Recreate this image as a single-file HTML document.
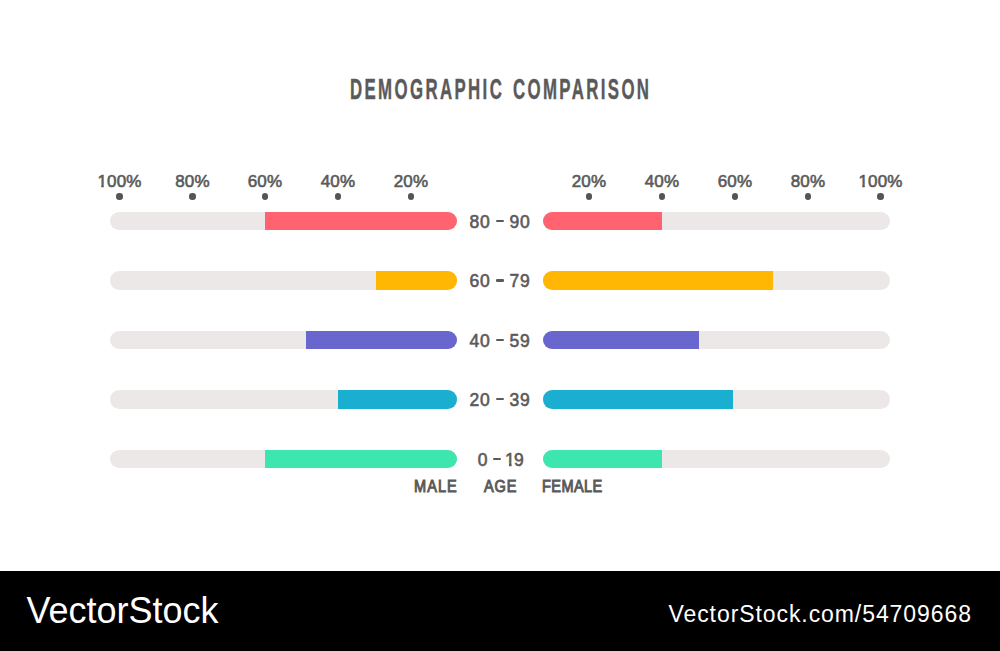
<!DOCTYPE html>
<html><head><meta charset="utf-8">
<style>
html,body{margin:0;padding:0;}
body{-webkit-font-smoothing:antialiased;width:1000px;height:651px;position:relative;overflow:hidden;background:#fff;font-family:"Liberation Sans",sans-serif;}
.t{position:absolute;white-space:nowrap;line-height:1;}
.title{left:350px;top:75px;font-size:29px;font-weight:bold;color:#5a5a5a;letter-spacing:4.1px;word-spacing:3px;transform:scaleX(0.58);transform-origin:0 0;-webkit-text-stroke:0.45px #5a5a5a;}
.tick{font-size:17px;font-weight:normal;-webkit-text-stroke:0.6px #5a5a5a;color:#5a5a5a;width:80px;margin-left:-40px;text-align:center;top:172.7px;letter-spacing:0.15px;}
.dot{position:absolute;width:6.5px;height:6.5px;border-radius:50%;background:#555;top:193px;margin-left:-3.25px;}
.bar{position:absolute;height:18.4px;background:#ece8e8;}
.bl{left:110px;width:347px;border-radius:9.2px;}
.br{left:543px;width:347px;border-radius:9.2px;}
.fl{position:absolute;height:18.4px;border-radius:0 9.2px 9.2px 0;}
.fr{position:absolute;height:18.4px;border-radius:9.2px 0 0 9.2px;}
.age{font-size:17.5px;font-weight:normal;-webkit-text-stroke:0.6px #5a5a5a;color:#5a5a5a;left:440px;width:120px;text-align:center;letter-spacing:0.7px;}
.one{display:inline-block;clip-path:polygon(-1em -1em,2em -1em,2em 0.69em,0.37em 0.69em,0.37em 2em,0.225em 2em,0.225em 0.69em,-1em 0.69em);}
.tick .one{clip-path:polygon(-1em -1em,2em -1em,2em 0.69em,0.37em 0.69em,0.37em 2em,0.225em 2em,0.225em 0.69em,-1em 0.69em);}
.d{display:inline-block;width:7.6px;height:2.3px;border-radius:1.1px;background:#5a5a5a;margin:0 6px 0 5.6px;vertical-align:5.6px;}
.lab{font-size:15.8px;font-weight:normal;-webkit-text-stroke:0.95px #5a5a5a;color:#5a5a5a;top:478.9px;letter-spacing:0.9px;transform:scaleX(0.92);transform-origin:0 0;}
.foot{position:absolute;left:0;top:571px;width:1000px;height:80px;background:#000;}
.wm1{color:#fff;font-size:36px;left:26.5px;top:593.1px;letter-spacing:0px;}
.wm2{color:#fff;font-size:23px;left:668.5px;top:603px;letter-spacing:0.92px;}
</style></head><body>
<div class="t title" id="title"><span id="t1">DEMOGRAPHIC</span> <span id="t2">COMPARISON</span></div>

<div class="t tick" style="left:119.5px"><span class="one">1</span>00%</div>
<div class="t tick" style="left:192.5px">80%</div>
<div class="t tick" style="left:265px">60%</div>
<div class="t tick" style="left:338px">40%</div>
<div class="t tick" style="left:411px">20%</div>
<div class="t tick" style="left:589px">20%</div>
<div class="t tick" style="left:662px">40%</div>
<div class="t tick" style="left:735px">60%</div>
<div class="t tick" style="left:808px">80%</div>
<div class="t tick" style="left:880.5px"><span class="one">1</span>00%</div>

<div class="dot" style="left:119.5px"></div>
<div class="dot" style="left:192.5px"></div>
<div class="dot" style="left:265px"></div>
<div class="dot" style="left:338px"></div>
<div class="dot" style="left:411px"></div>
<div class="dot" style="left:589px"></div>
<div class="dot" style="left:662px"></div>
<div class="dot" style="left:735px"></div>
<div class="dot" style="left:808px"></div>
<div class="dot" style="left:880.5px"></div>

<!-- row 1 -->
<div class="bar bl" style="top:212.0px"></div>
<div class="fl" style="top:212.0px;left:265px;width:192px;background:#fe636f"></div>
<div class="bar br" style="top:212.0px"></div>
<div class="fr" style="top:212.0px;left:543px;width:119px;background:#fe636f"></div>
<div class="t age" style="top:214px">80<span class="d"></span>90</div>
<!-- row 2 -->
<div class="bar bl" style="top:271.4px"></div>
<div class="fl" style="top:271.4px;left:375.5px;width:81.5px;background:#ffb703"></div>
<div class="bar br" style="top:271.4px"></div>
<div class="fr" style="top:271.4px;left:543px;width:230px;background:#ffb703"></div>
<div class="t age" style="top:273.2px">60<span class="d"></span>79</div>
<!-- row 3 -->
<div class="bar bl" style="top:330.8px"></div>
<div class="fl" style="top:330.8px;left:306px;width:151px;background:#6967ce"></div>
<div class="bar br" style="top:330.8px"></div>
<div class="fr" style="top:330.8px;left:543px;width:156px;background:#6967ce"></div>
<div class="t age" style="top:333px">40<span class="d"></span>59</div>
<!-- row 4 -->
<div class="bar bl" style="top:390.2px"></div>
<div class="fl" style="top:390.2px;left:338px;width:119px;background:#1aafd0"></div>
<div class="bar br" style="top:390.2px"></div>
<div class="fr" style="top:390.2px;left:543px;width:190px;background:#1aafd0"></div>
<div class="t age" style="top:392px">20<span class="d"></span>39</div>
<!-- row 5 -->
<div class="bar bl" style="top:449.6px"></div>
<div class="fl" style="top:449.6px;left:265px;width:192px;background:#3de6af"></div>
<div class="bar br" style="top:449.6px"></div>
<div class="fr" style="top:449.6px;left:543px;width:119px;background:#3de6af"></div>
<div class="t age" style="top:451.8px;letter-spacing:0.3px;left:440.8px">0<span class="d" style="margin-left:5.4px;margin-right:4.4px"></span><span class="one" style="margin-right:-1.2px">1</span>9</div>

<div class="t lab" style="left:414px;letter-spacing:1.15px" id="male">MALE</div>
<div class="t lab" style="left:484.3px" id="agel">AGE</div>
<div class="t lab" style="left:542.3px;letter-spacing:0.45px" id="female">FEMALE</div>

<div class="foot"></div>
<div class="t wm1" id="wm1">VectorStock</div>
<div class="t wm2" id="wm2">VectorStock.com/54709668</div>
</body></html>
